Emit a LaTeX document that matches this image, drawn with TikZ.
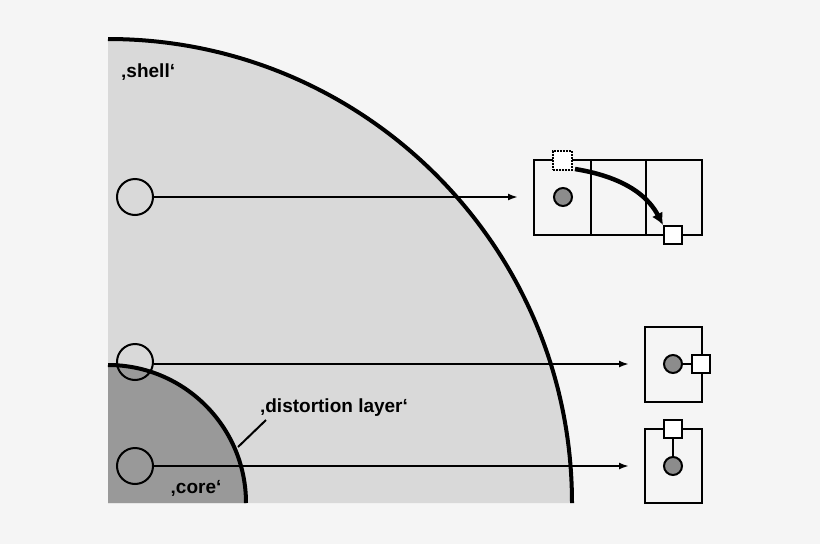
\documentclass[tikz,border=0pt]{standalone}
\usepackage{fontspec}
\setmainfont{Liberation Sans}
\usetikzlibrary{arrows.meta}
\definecolor{bg}{HTML}{F5F5F5}
\definecolor{shellc}{HTML}{D9D9D9}
\definecolor{corec}{HTML}{999999}
\definecolor{dotc}{HTML}{8C8C8C}
\tikzset{
  px/.style={x=1pt,y=-1pt},
  probe/.style={circle,draw,line width=2pt,minimum size=36pt,inner sep=0pt},
  ray/.style={line width=2pt,-{Latex[length=10pt,width=7pt]}},
  cell/.style={draw,line width=2pt},
  dot/.style={circle,draw,line width=2pt,fill=dotc,minimum size=18pt,inner sep=0pt},
  sq/.style={draw,line width=2pt,fill=white,minimum size=18pt,inner sep=0pt},
  lab/.style={font=\bfseries\fontsize{19}{22}\selectfont,inner sep=0pt}
}
\begin{document}
\begin{tikzpicture}[px]
\fill[bg] (0,0) rectangle (820,544);
\useasboundingbox (0,0) rectangle (820,544);
\fill[shellc] (108,503) -- (108,39) arc[start angle=-90,end angle=0,radius=464] -- cycle;
\fill[corec] (108,503) -- (108,365) arc[start angle=-90,end angle=0,radius=138] -- cycle;
\draw[line width=4pt] (108,39) arc[start angle=-90,end angle=0,radius=464];
\draw[line width=4pt] (108,365) arc[start angle=-90,end angle=0,radius=138];
% probes
\node[probe] (p1) at (135,197) {};
\node[probe] (p2) at (135,362) {};
\node[probe] (p3) at (135,466) {};
\coordinate (e1) at (518,197);
\coordinate (e2) at (629,364);
\coordinate (e3) at (629,466);
\draw[ray] (p1.east) -- (e1);
\draw[ray] (p2.east |- 0,364) -- (e2);
\draw[ray] (p3.east) -- (e3);
% box 1
\draw[cell] (534,160) rectangle (702,235);
\draw[cell] (591,160) -- (591,235) (646,160) -- (646,235);
\node[dot] (d1) at (563,197) {};
\node[draw,densely dotted,line width=2pt,fill=white,minimum size=19pt,inner sep=0pt] (s0) at (562,160) {};
\node[sq] (s1) at (673,235) {};
\draw[line width=4.5pt,-{Latex[length=12pt,width=12pt]}] (575,169) .. controls (630,178) and (650,200) .. (s1.north west);
% box 2
\draw[cell] (645,327) rectangle (702,402);
\node[dot] (d2) at (673,364) {};
\node[sq] (s2) at (701,364) {};
\draw[line width=2pt] (d2.east) -- (s2.west);
% box 3
\draw[cell] (645,429) rectangle (702,503);
\node[sq] (s3) at (673,429) {};
\node[dot] (d3) at (673,466) {};
\draw[line width=2pt] (s3.south) -- (d3.north);
% labels
\node[lab,anchor=west] (ls) at (121,72) {‚shell‘};
\node[lab] (ld) at (334,408) {‚distortion layer‘};
\node[lab] (lc) at (196,488) {‚core‘};
\coordinate (t) at (238,447);
\draw[line width=2pt] (t) -- (266,420);
\end{tikzpicture}
\end{document}
